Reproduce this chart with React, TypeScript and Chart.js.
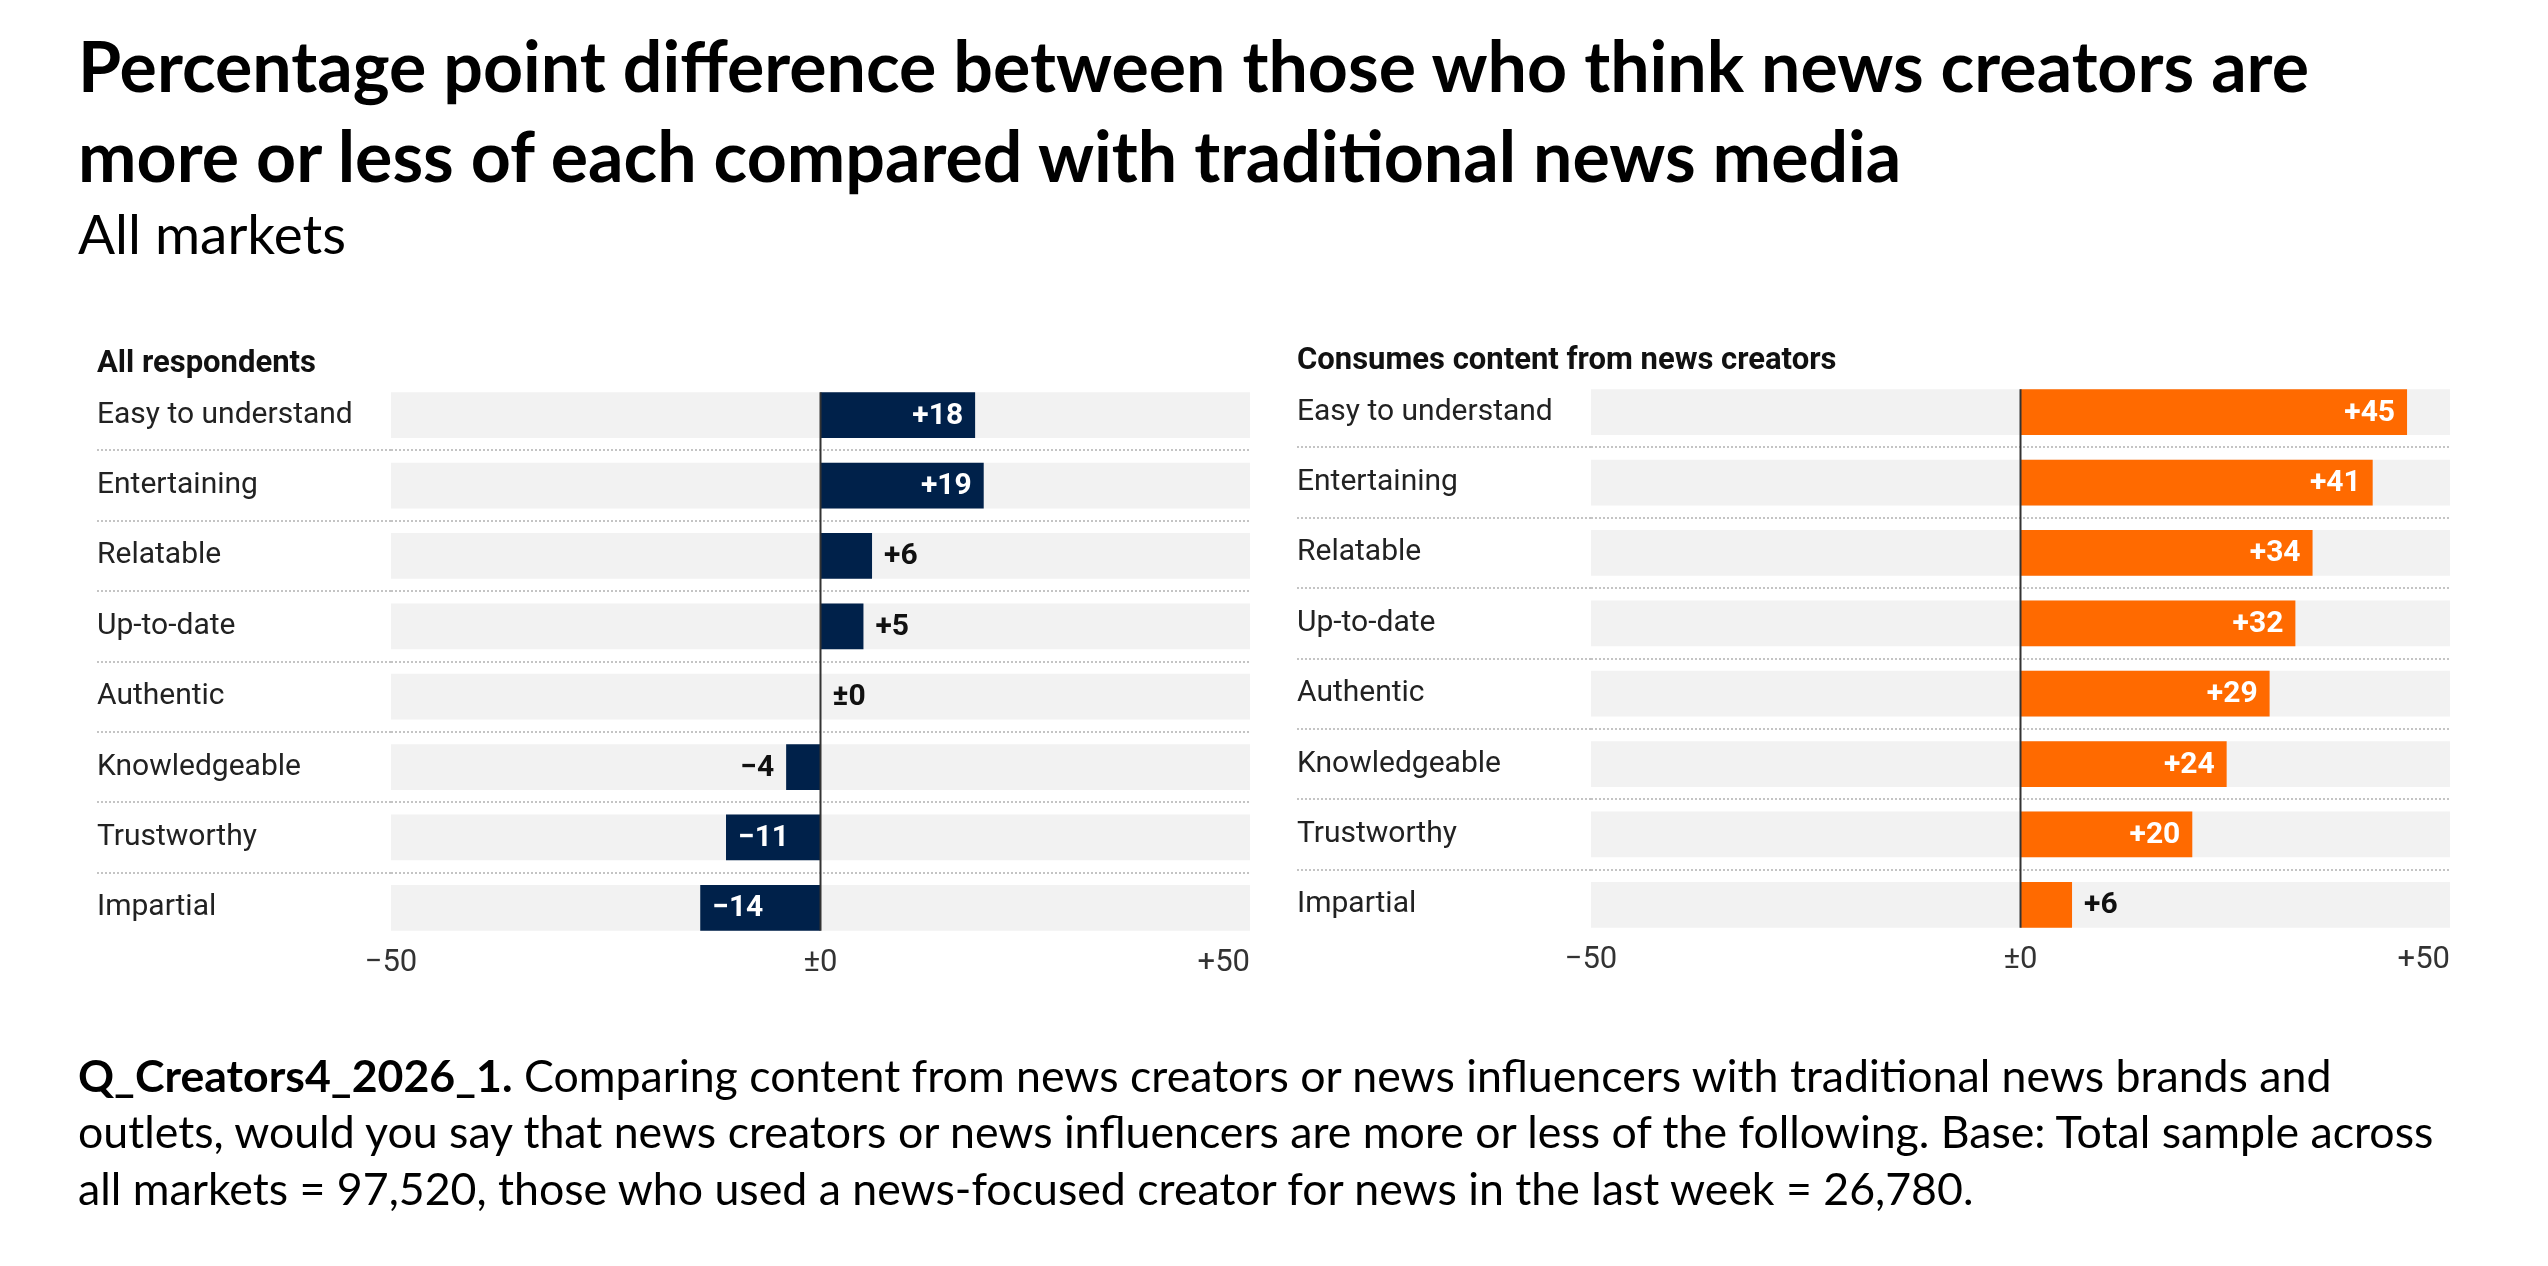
import React, { useEffect, useRef } from "react";
import { Chart, registerables } from "chart.js";

Chart.register(...registerables);

// ---------- data ----------
const categories = [
  "Easy to understand",
  "Entertaining",
  "Relatable",
  "Up-to-date",
  "Authentic",
  "Knowledgeable",
  "Trustworthy",
  "Impartial",
];
const allRespondents = [18, 19, 6, 5, 0, -4, -11, -14];
const newsCreatorUsers = [45, 41, 34, 32, 29, 24, 20, 6];
const tickValues = [-50, 0, 50];
const axisRange = [-50, 50];
const panelTitles = ["All respondents", "Consumes content from news creators"];

const titleLines = [
  "Percentage point difference between those who think news creators are",
  "more or less of each compared with traditional news media",
];
const subtitle = "All markets";
const footerBold = "Q_Creators4_2026_1.";
const footerLines = [
  " Comparing content from news creators or news influencers with traditional news brands and",
  "outlets, would you say that news creators or news influencers are more or less of the following. Base: Total sample across",
  "all markets = 97,520, those who used a news-focused creator for news in the last week = 26,780.",
];

// ---------- styles ----------
const NAVY = "#00214a";
const ORANGE = "#ff6a00";
const BAND = "#f2f2f2";
const CHART_FONT = "Roboto";
const TEXT_FONT = "Lato";

Chart.defaults.font.family = CHART_FONT;

function fmtTick(v: number): string {
  if (v > 0) return `+${v}`;
  if (v < 0) return `\u2212${Math.abs(v)}`;
  return "\u00b10";
}

function fitSize(text: string, weight: string, family: string, target: number): number {
  const c = document.createElement("canvas").getContext("2d");
  if (!c) return 40;
  c.font = `${weight} 100px ${family}`;
  const w = c.measureText(text).width;
  return w > 0 ? (100 * target) / w : 40;
}

// last x tick label is right-aligned to the end of the axis, as in the original
const endTickAlignPlugin = {
  id: "endTickAlign",
  beforeDraw(chart: any) {
    const s = chart.scales.x;
    if (!s || typeof s.getLabelItems !== "function") return;
    const items = s.getLabelItems(chart.chartArea);
    const lastItem = items && items[items.length - 1];
    if (lastItem && lastItem.options) lastItem.options.textAlign = "right";
  },
};

const valueLabelPlugin = {
  id: "valueLabels",
  afterDatasetsDraw(chart: any) {
    const ctx = chart.ctx;
    const meta = chart.getDatasetMeta(1);
    const values = chart.data.datasets[1].data as number[];
    const xs = chart.scales.x;
    const zero = xs.getPixelForValue(0);
    const els = meta.data;
    if (!els.length) return;
    const first = els[0];
    const last = els[els.length - 1];
    ctx.save();
    // zero line spanning the bars
    ctx.strokeStyle = "#333";
    ctx.lineWidth = 2;
    ctx.beginPath();
    ctx.moveTo(zero, first.y - first.height / 2);
    ctx.lineTo(zero, last.y + last.height / 2);
    ctx.stroke();
    // labels
    ctx.font = `bold 30px ${CHART_FONT}`;
    ctx.textBaseline = "middle";
    els.forEach((el: any, i: number) => {
      const v = values[i];
      const inside = Math.abs(v) >= 10;
      let tx: number;
      let align: CanvasTextAlign;
      let color: string;
      if (inside) {
        color = "#ffffff";
        if (v > 0) { align = "right"; tx = el.x - 12; } else { align = "left"; tx = el.x + 12; }
      } else {
        color = "#111111";
        if (v >= 0) { align = "left"; tx = el.x + 12; } else { align = "right"; tx = el.x - 12; }
      }
      ctx.fillStyle = color;
      ctx.textAlign = align;
      ctx.fillText(fmtTick(v), tx, el.y + 1);
    });
    ctx.restore();
  },
};

const CANVAS_W = 1193;
const CANVAS_H = 651;
const LABEL_W = 294;

function Panel(props: { left: number; top: number; title: string; values: number[]; color: string }) {
  const ref = useRef<HTMLCanvasElement>(null);
  useEffect(() => {
    const canvas = ref.current;
    if (!canvas) return;
    const chart = new Chart(canvas, {
      type: "bar",
      data: {
        labels: categories,
        datasets: [
          {
            data: categories.map(() => [axisRange[0], axisRange[1]]) as any,
            backgroundColor: BAND,
            order: 2,
            grouped: false,
            barPercentage: 0.65,
            categoryPercentage: 1,
          } as any,
          {
            data: props.values,
            backgroundColor: props.color,
            order: 1,
            grouped: false,
            barPercentage: 0.65,
            categoryPercentage: 1,
          } as any,
        ],
      },
      options: {
        indexAxis: "y",
        responsive: false,
        maintainAspectRatio: false,
        animation: false,
        layout: { padding: { left: 0, right: 40, top: 0, bottom: 0 } },
        plugins: {
          legend: { display: false },
          tooltip: { enabled: false },
          title: {
            display: true,
            text: props.title,
            align: "start",
            color: "#111",
            font: { size: 31, weight: "bold", family: CHART_FONT, lineHeight: 1 },
            padding: { top: 16.5, bottom: 0.5 },
          },
        },
        scales: {
          x: {
            type: "linear",
            min: axisRange[0],
            max: axisRange[1],
            afterBuildTicks: (s: any) => {
              s.ticks = tickValues.map((v) => ({ value: v }));
            },
            grid: { display: false, drawTicks: false },
            border: { display: false },
            ticks: {
              padding: 2,
              autoSkip: false,
              color: "#333",
              font: { size: 31, family: CHART_FONT },
              callback: (v: any) => fmtTick(Number(v)),
            },
            afterFit: (s: any) => {
              s.height = 40;
            },
          },
          y: {
            type: "category",
            offset: true,
            grid: {
              display: true,
              offset: true,
              drawTicks: true,
              tickLength: LABEL_W,
              lineWidth: 2,
              tickWidth: 2,
              tickBorderDash: [2, 2],
              color: (c: any) => (c.type === "tick" && c.index > 0 ? "#c4c4c4" : "rgba(0,0,0,0)"),
            },
            border: { display: false, dash: [2, 2] },
            ticks: {
              crossAlign: "far",
              autoSkip: false,
              color: "#222",
              font: { size: 30, family: CHART_FONT },
            },
            afterFit: (s: any) => {
              s.width = LABEL_W;
            },
          },
        },
      } as any,
      plugins: [endTickAlignPlugin, valueLabelPlugin],
    });
    return () => chart.destroy();
  }, []);
  return (
    <canvas
      ref={ref}
      width={CANVAS_W}
      height={CANVAS_H}
      style={{ position: "absolute", left: props.left, top: props.top, width: CANVAS_W, height: CANVAS_H }}
    />
  );
}

export default function App() {
  const titleSize = fitSize(titleLines[0], "bold", TEXT_FONT, 2233);
  const subSize = fitSize(subtitle, "normal", TEXT_FONT, 268);
  const footSize = fitSize(footerLines[1], "normal", TEXT_FONT, 2363);
  return (
    <div style={{ position: "absolute", left: 0, top: 0, width: 2548, height: 1266, background: "#fff", overflow: "hidden" }}>
      <Panel left={97} top={332} title={panelTitles[0]} values={allRespondents} color={NAVY} />
      <Panel left={1297} top={329} title={panelTitles[1]} values={newsCreatorUsers} color={ORANGE} />
      <svg
        width={2548}
        height={1266}
        style={{ position: "absolute", left: 0, top: 0, pointerEvents: "none" }}
        fontFamily={TEXT_FONT}
      >
        <text x={78} y={92} fontSize={titleSize} fontWeight="bold" fill="#000">{titleLines[0]}</text>
        <text x={78} y={182} fontSize={titleSize} fontWeight="bold" fill="#000">{titleLines[1]}</text>
        <text x={78} y={254} fontSize={subSize} fill="#000">{subtitle}</text>
        <text x={78} y={1092} fontSize={footSize} fill="#000" style={{ whiteSpace: "pre" }}>
          <tspan fontWeight="bold">{footerBold}</tspan>
          <tspan>{footerLines[0]}</tspan>
        </text>
        <text x={78} y={1148} fontSize={footSize} fill="#000">{footerLines[1]}</text>
        <text x={78} y={1205} fontSize={footSize} fill="#000">{footerLines[2]}</text>
      </svg>
    </div>
  );
}
